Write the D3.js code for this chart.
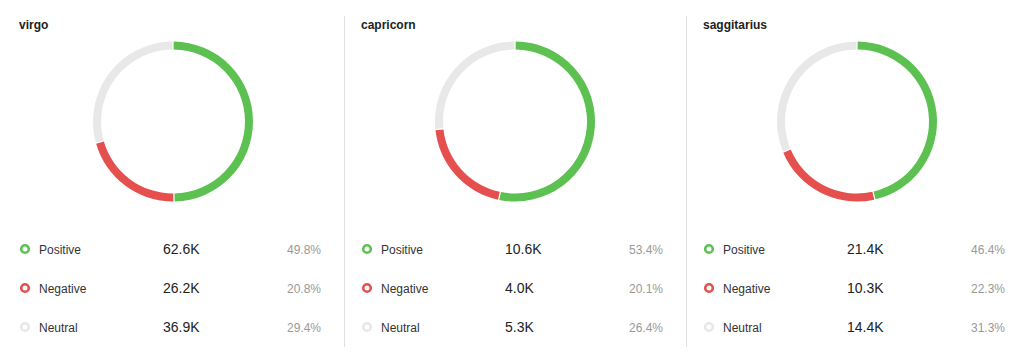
<!DOCTYPE html>
<html><head><meta charset="utf-8">
<script src="https://cdn.jsdelivr.net/npm/d3@7"></script>
<style>body{margin:0;background:#fff;font-family:"Liberation Sans",Arial,sans-serif;}</style>
</head><body><svg id="c" width="1027" height="361"></svg>
<script>
const panels = ["virgo", "capricorn", "saggitarius"];
const categories = ["Positive", "Negative", "Neutral"];
const values = [[62.6, 26.2, 36.9], [10.6, 4.0, 5.3], [21.4, 10.3, 14.4]];
const valueLabels = [["62.6K", "26.2K", "36.9K"], ["10.6K", "4.0K", "5.3K"], ["21.4K", "10.3K", "14.4K"]];
const percents = [["49.8%", "20.8%", "29.4%"], ["53.4%", "20.1%", "26.4%"], ["46.4%", "22.3%", "31.3%"]];
const colors = ["#5cc151", "#e5504f", "#e8e8e8"];

const svg = d3.select("#c");
const panelX = d3.scaleBand().domain(panels).range([2, 1028]);
const color = d3.scaleOrdinal().domain(categories).range(colors);
const rowY = d3.scalePoint().domain(categories).range([249, 327]);
const pie = d3.pie().sort(null).value(d => d);
const arc = d3.arc().innerRadius(72).outerRadius(80).padAngle(0.012);

panels.forEach((name, i) => {
  const x0 = panelX(name);
  const w = panelX.bandwidth();
  const g = svg.append("g").attr("transform", `translate(${x0},0)`);
  if (i > 0) {
    g.append("line").attr("x1", 0.5).attr("x2", 0.5).attr("y1", 16).attr("y2", 347)
      .attr("stroke", "#e0e0e0").attr("stroke-width", 1);
  }
  g.append("text").attr("x", 17).attr("y", 29).text(name)
    .attr("font-size", 12).attr("font-weight", "bold").attr("fill", "#222");
  const donut = g.append("g").attr("transform", `translate(${w / 2},121.5)`);
  donut.selectAll("path").data(pie(values[i])).join("path")
    .attr("d", arc).attr("fill", (d, j) => color(categories[j]));
  categories.forEach((cat, j) => {
    const y = rowY(cat);
    g.append("circle").attr("cx", 23).attr("cy", y).attr("r", 3.8)
      .attr("fill", "none").attr("stroke", color(cat)).attr("stroke-width", 2.6);
    g.append("text").attr("x", 37).attr("y", y + 4.5).text(cat)
      .attr("font-size", 12).attr("fill", "#333");
    g.append("text").attr("x", 161).attr("y", y + 5).text(valueLabels[i][j])
      .attr("font-size", 14).attr("fill", "#222");
    g.append("text").attr("x", 319).attr("y", y + 4.5).attr("text-anchor", "end").text(percents[i][j])
      .attr("font-size", 12).attr("fill", "#999");
  });
});
</script></body></html>
